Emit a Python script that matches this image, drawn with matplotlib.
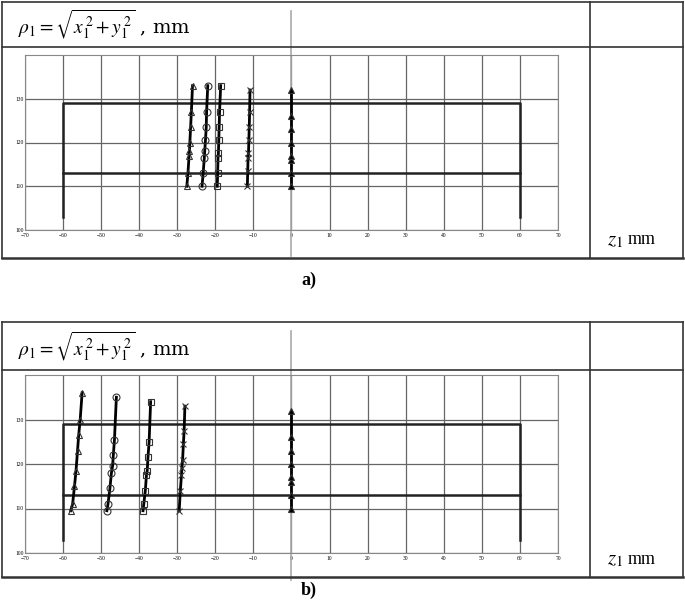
import matplotlib.pyplot as plt
from matplotlib.lines import Line2D

W, H = 685, 603

# panel a) data (z1, rho1)
a_tri_z = [-27.5, -27.2, -26.9, -26.8, -26.7, -26.5, -26.3, -26.0]
a_tri_r = [110, 113, 117, 118, 120, 123.5, 127, 133]
a_cir_z = [-23.5, -23.2, -22.9, -22.8, -22.6, -22.4, -22.3, -22.0]
a_cir_r = [110, 113, 116.5, 118, 120.5, 123.5, 127, 133]
a_sq_z = [-19.5, -19.4, -19.3, -19.2, -19.1, -19.0, -18.9, -18.6]
a_sq_r = [110, 113, 116.5, 117.5, 120.5, 123.5, 127, 133]
a_x_z = [-11.6, -11.5, -11.4, -11.3, -11.2, -11.1, -11.0, -10.9]
a_x_r = [110, 113.5, 116.5, 117.5, 120.5, 123.5, 127, 132]

# panel b) data
b_tri_z = [-58.0, -57.5, -57.0, -56.6, -56.2, -55.9, -55.5, -55.0]
b_tri_r = [109.5, 111, 115, 118.5, 123, 126.5, 130, 136]
b_cir_z = [-48.5, -48.2, -47.7, -47.3, -47.0, -46.8, -46.5, -46.0]
b_cir_r = [109.5, 111, 114.5, 118, 119.5, 122, 125.5, 135]
b_sq_z = [-39.0, -38.8, -38.4, -38.1, -37.9, -37.7, -37.4, -37.0]
b_sq_r = [109.5, 111, 114, 117.5, 118.5, 121.5, 125, 134]
b_x_z = [-29.5, -29.2, -28.9, -28.8, -28.6, -28.4, -28.2, -28.0]
b_x_r = [109.5, 114, 117.5, 119, 121, 124.5, 127.5, 133]

# reference (z = 0) points, same in both panels
ref_z = [0, 0, 0, 0, 0, 0, 0, 0]
ref_r = [110, 113, 116, 117, 120, 123, 126, 132]

# body outline
body_z = [-60, -60, 60, 60]
body_r = [103, 129, 129, 103]
inner_r = 113

xticks = list(range(-70, 71, 10))
yticks = [100, 110, 120, 130]

plt.rcParams['mathtext.fontset'] = 'stix'
fig = plt.figure(figsize=(W / 100, H / 100), dpi=100)


def fl(x0, y0, x1, y1, lw=1.2):
    fig.add_artist(Line2D([x0 / W, x1 / W], [1 - y0 / H, 1 - y1 / H], color='#333333', lw=lw))


def panel(top, head, bottom, ax_top, ax_bot, series, label, label_y):
    # table frame
    fl(2, top, 683, top)
    fl(2, head, 683, head)
    fl(2, bottom, 683, bottom, lw=1.8)
    fl(2, top, 2, bottom)
    fl(683, top, 683, bottom)
    fl(590, top, 590, bottom)
    fig.text(18 / W, 1 - (top + head) / 2 / H, r'$\rho_1 = \sqrt{x_1^{\,2} + y_1^{\,2}}$ , mm',
             fontsize=14, family='serif', va='center', ha='left')
    fig.text(607 / W, 1 - (bottom - 18) / H, r'$z_1$', fontsize=15, va='center')
    fig.text(628 / W, 1 - (bottom - 18) / H, 'mm', fontsize=13, family='Liberation Serif', va='center')
    fig.text(309 / W, 1 - label_y / H, label, fontsize=13, family='Liberation Serif',
             weight='bold', ha='center', va='center')

    ax = fig.add_axes([25 / W, 1 - ax_bot / H, (558 - 25) / W, (ax_bot - ax_top) / H])
    ax.set_xlim(-70, 70)
    ax.set_ylim(100, 140)
    ax.set_xticks(xticks)
    ax.set_yticks(yticks)
    ax.tick_params(labelsize=4, length=0)
    ax.tick_params(axis='x', pad=2)
    ax.tick_params(axis='y', pad=1)
    for t in ax.get_xticklabels() + ax.get_yticklabels():
        t.set_family('Liberation Serif')
    ax.grid(True, color='#666666', lw=0.9)
    for s in ax.spines.values():
        s.set_color('#888888')
    ax.axvline(0, color='#aaaaaa', lw=1.2, ymin=-0.15, ymax=1.25, clip_on=False)
    ax.plot(body_z, body_r, color='#222222', lw=1.8)
    ax.plot([-60, 60], [inner_r, inner_r], color='#222222', lw=1.8)
    for z, r, m, fill in series:
        ax.plot(z, r, color='black', lw=2)
        ax.plot(z, r, ls='none', marker=m, ms=5, mec='#333333',
                mfc='black' if fill else 'none', mew=0.8)


panel(2, 47, 258, 55, 230,
      [(a_tri_z, a_tri_r, '^', False), (a_cir_z, a_cir_r, 'o', False),
       (a_sq_z, a_sq_r, 's', False), (a_x_z, a_x_r, 'x', False),
       (ref_z, ref_r, '^', True)], 'a)', 280)
panel(322, 370, 577, 375, 553,
      [(b_tri_z, b_tri_r, '^', False), (b_cir_z, b_cir_r, 'o', False),
       (b_sq_z, b_sq_r, 's', False), (b_x_z, b_x_r, 'x', False),
       (ref_z, ref_r, '^', True)], 'b)', 590)

fig.savefig('out.png', dpi=100)
